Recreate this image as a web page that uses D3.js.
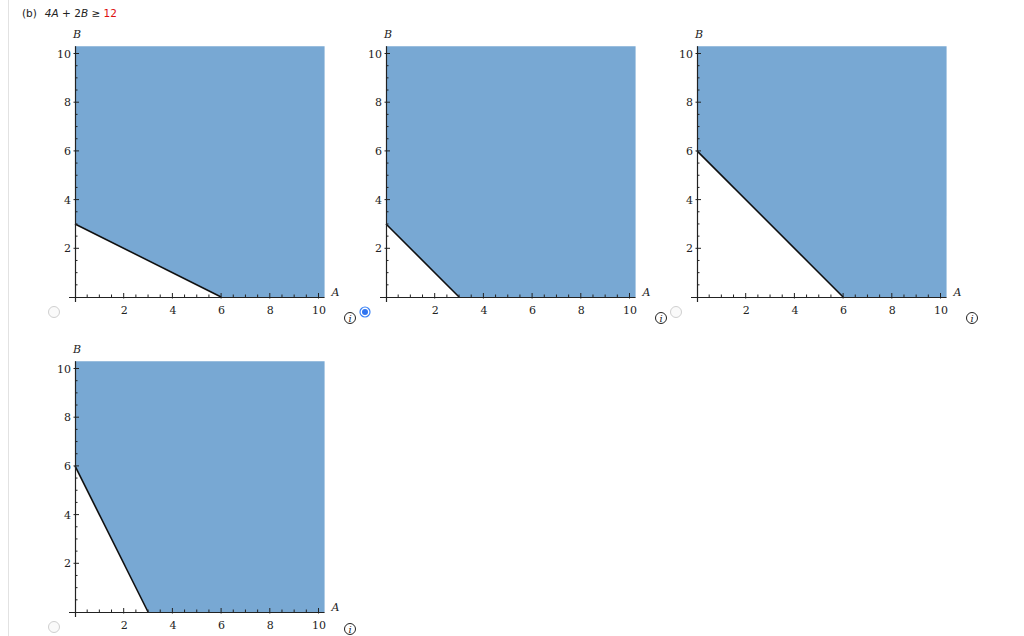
<!DOCTYPE html>
<html><head><meta charset="utf-8">
<script src="https://cdn.jsdelivr.net/npm/d3@7"></script>
<style>body{margin:0;background:#fff;}svg{display:block;}</style>
</head><body>
<svg id="chart" width="1024" height="636"></svg>
<script>
// Data
const panelNames = ["p1", "p2", "p3", "p4"];
const aIntercepts = [6, 3, 6, 3];   // where boundary line meets A axis
const bIntercepts = [3, 3, 6, 6];   // where boundary line meets B axis
const selected = [false, true, false, false];
const tickLabels = [2, 4, 6, 8, 10];
const minorTicks = d3.range(0.5, 10.01, 0.5);

const svg = d3.select("#chart");
svg.append("line").attr("x1", 8.5).attr("x2", 8.5).attr("y1", 0).attr("y2", 636)
  .attr("stroke", "#e2e2e2").attr("stroke-width", 1);

// header
const hdr = svg.append("text").attr("x", 22).attr("y", 17)
  .attr("font-family", "DejaVu Sans, Verdana, sans-serif").attr("font-size", 10.5).attr("fill", "#222");
hdr.append("tspan").text("(b)");
hdr.append("tspan").attr("dx", 8).attr("font-style", "italic").text("4A");
hdr.append("tspan").text(" + 2");
hdr.append("tspan").attr("font-style", "italic").text("B");
hdr.append("tspan").text(" ≥ ");
hdr.append("tspan").attr("fill", "#dd1010").text("12");

const unit = 24.35;
const xMax = 10.25, yMax = 10.3;
const serif = "DejaVu Serif, serif";

panelNames.forEach((name, i) => {
  const c = i % 3, r = Math.floor(i / 3);
  const x0 = 75 + 311 * c, y0 = 297 + 315 * r;
  const x = d3.scaleLinear().domain([0, xMax]).range([x0, x0 + unit * xMax]);
  const y = d3.scaleLinear().domain([0, yMax]).range([y0, y0 - unit * yMax]);
  const g = svg.append("g").attr("class", name);

  const a = aIntercepts[i], b = bIntercepts[i];
  const poly = [[0, yMax], [xMax, yMax], [xMax, 0], [a, 0], [0, b]];
  g.append("path").attr("d", d3.line().x(d => x(d[0])).y(d => y(d[1]))(poly) + "Z")
    .attr("fill", "#78a8d3");
  g.append("line").attr("x1", x(0)).attr("y1", y(b)).attr("x2", x(a)).attr("y2", y(0))
    .attr("stroke", "#111").attr("stroke-width", 1.6);

  // x axis
  const xa = g.append("g").attr("transform", `translate(0,${y0})`)
    .call(d3.axisBottom(x).tickValues(tickLabels).tickSize(0).tickPadding(9).tickFormat(d3.format("d")));
  xa.select(".domain").remove();
  xa.selectAll("text").attr("font-family", serif).attr("font-size", 11).attr("fill", "#222");
  g.append("line").attr("x1", x0 - 6).attr("x2", x(xMax)).attr("y1", y0 + 0.5).attr("y2", y0 + 0.5)
    .attr("stroke", "#222").attr("stroke-width", 1.2);
  minorTicks.forEach(v => {
    const major = tickLabels.includes(v);
    g.append("line").attr("x1", x(v)).attr("x2", x(v))
      .attr("y1", y0 - (major ? 4 : 2.5)).attr("y2", y0 + (major ? 1.5 : 0))
      .attr("stroke", "#222").attr("stroke-width", 1);
  });

  // y axis
  const ya = g.append("g").attr("transform", `translate(${x0},0)`)
    .call(d3.axisLeft(y).tickValues(tickLabels).tickSize(0).tickPadding(4).tickFormat(d3.format("d")));
  ya.select(".domain").remove();
  ya.selectAll("text").attr("font-family", serif).attr("font-size", 11).attr("fill", "#222");
  g.append("line").attr("x1", x0 + 0.5).attr("x2", x0 + 0.5).attr("y1", y0 + 5).attr("y2", y(yMax))
    .attr("stroke", "#222").attr("stroke-width", 1.2);
  minorTicks.forEach(v => {
    const major = tickLabels.includes(v);
    g.append("line").attr("y1", y(v)).attr("y2", y(v))
      .attr("x1", x0 - (major ? 1.5 : 0)).attr("x2", x0 + (major ? 4 : 2.5))
      .attr("stroke", "#222").attr("stroke-width", 1);
  });

  // axis names
  g.append("text").attr("x", x(xMax) + 7).attr("y", y0 - 1)
    .attr("font-family", serif).attr("font-style", "italic").attr("font-size", 11).attr("fill", "#222").text("A");
  g.append("text").attr("x", x0 + 2).attr("y", y0 - 259).attr("text-anchor", "middle")
    .attr("font-family", serif).attr("font-style", "italic").attr("font-size", 11).attr("fill", "#222").text("B");

  // radio button
  const rx = x0 - 21, ry = y0 + 15;
  if (selected[i]) {
    g.append("circle").attr("cx", rx).attr("cy", ry).attr("r", 5).attr("fill", "#fff")
      .attr("stroke", "#3b82f6").attr("stroke-width", 1.2);
    g.append("circle").attr("cx", rx).attr("cy", ry).attr("r", 3).attr("fill", "#2f74f0");
  } else {
    g.append("circle").attr("cx", rx).attr("cy", ry).attr("r", 5.5).attr("fill", "#fafafa")
      .attr("stroke", "#cfcfcf").attr("stroke-width", 1);
  }
  // info icon
  const ix = x0 + 275, iy = Math.min(y0 + 21, 629);
  g.append("circle").attr("cx", ix).attr("cy", iy).attr("r", 5.5).attr("fill", "none")
    .attr("stroke", "#222").attr("stroke-width", 1);
  g.append("text").attr("x", ix).attr("y", iy + 3.5).attr("text-anchor", "middle")
    .attr("font-family", serif).attr("font-style", "italic").attr("font-size", 10).attr("fill", "#222").text("i");
});
</script>
</body></html>
